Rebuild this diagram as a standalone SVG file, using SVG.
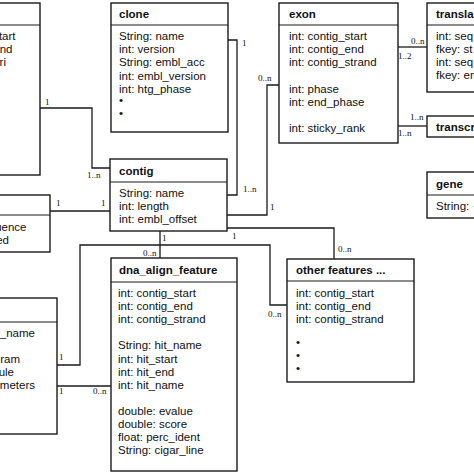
<svg xmlns="http://www.w3.org/2000/svg" width="474" height="474" viewBox="0 0 474 474">
<style>
.box{fill:#fff;stroke:#1a1a1a;stroke-width:1.4}
.div{stroke:#1a1a1a;stroke-width:1.2}
.t{font-family:"Liberation Sans",Arial,sans-serif;font-size:11.5px;font-weight:bold;fill:#111}
.b{font-family:"Liberation Sans",Arial,sans-serif;font-size:11.5px;fill:#111}
.lb{font-family:"Liberation Serif","Times New Roman",serif;font-size:9px;fill:#111}
.c{fill:none;stroke:#1a1a1a;stroke-width:1.3}
</style>
<rect width="474" height="474" fill="#fff"/>
<g id="connectors">
<path class="c" d="M40,108 H92 V168 H110"/>
<path class="c" d="M50,211 H110"/>
<path class="c" d="M228,40 H237 V195 H227"/>
<path class="c" d="M227,215 H267 V85 H279"/>
<path class="c" d="M227,228 H334 V259"/>
<path class="c" d="M160,231 V258"/>
<path class="c" d="M57,365 H80 V245 H270 V305 H287"/>
<path class="c" d="M57,386 H111"/>
<path class="c" d="M398,47 H427"/>
<path class="c" d="M398,126 H427"/>
<text class="lb" x="45" y="105">1</text>
<text class="lb" x="87" y="178">1..n</text>
<text class="lb" x="242" y="46">1</text>
<text class="lb" x="243" y="192">1..n</text>
<text class="lb" x="258" y="81">0..n</text>
<text class="lb" x="270" y="210">1</text>
<text class="lb" x="232" y="239">1</text>
<text class="lb" x="338" y="252">0..n</text>
<text class="lb" x="162" y="241">1</text>
<text class="lb" x="143" y="256">0..n</text>
<text class="lb" x="56" y="206">1</text>
<text class="lb" x="101" y="206">1</text>
<text class="lb" x="411" y="44">0..n</text>
<text class="lb" x="398" y="59">1..2</text>
<text class="lb" x="410" y="120">1..n</text>
<text class="lb" x="398" y="136">1..n</text>
<text class="lb" x="59" y="360">1</text>
<text class="lb" x="59" y="394">1</text>
<text class="lb" x="93" y="394">0..n</text>
<text class="lb" x="268" y="317">0..n</text>
</g>
<g id="node-topleft">
<rect class="box" x="-10" y="3" width="50" height="172"/>
<line class="div" x1="-10" y1="25" x2="40" y2="25"/>
<text class="b" x="15.5" y="40" text-anchor="end">start</text>
<text class="b" x="12.5" y="53" text-anchor="end">end</text>
<text class="b" x="6" y="66" text-anchor="end">ri</text>
</g>
<g id="node-clone">
<rect class="box" x="111" y="3" width="117" height="129"/>
<line class="div" x1="111" y1="25" x2="228" y2="25"/>
<text class="t" x="119" y="18">clone</text>
<text class="b" x="119" y="40">String: name</text>
<text class="b" x="119" y="53.2">int: version</text>
<text class="b" x="119" y="66.4">String: embl_acc</text>
<text class="b" x="119" y="79.6">int: embl_version</text>
<text class="b" x="119" y="92.8">int: htg_phase</text>
<text class="b" x="119" y="104">•</text>
<text class="b" x="119" y="117">•</text>
</g>
<g id="node-exon">
<rect class="box" x="279" y="3" width="119" height="140"/>
<line class="div" x1="279" y1="25" x2="398" y2="25"/>
<text class="t" x="289" y="18">exon</text>
<text class="b" x="289" y="40">int: contig_start</text>
<text class="b" x="289" y="53.2">int: contig_end</text>
<text class="b" x="289" y="66.4">int: contig_strand</text>
<text class="b" x="289" y="92.8">int: phase</text>
<text class="b" x="289" y="106">int: end_phase</text>
<text class="b" x="289" y="132.4">int: sticky_rank</text>
</g>
<g id="node-translation">
<rect class="box" x="427" y="3" width="60" height="89"/>
<line class="div" x1="427" y1="25" x2="487" y2="25"/>
<text class="t" x="436" y="18">transla</text>
<text class="b" x="436" y="40">int: seq</text>
<text class="b" x="436" y="53">fkey: st</text>
<text class="b" x="436" y="66">int: seq</text>
<text class="b" x="436" y="79">fkey: en</text>
</g>
<g id="node-transcript">
<rect class="box" x="427" y="116" width="60" height="21"/>
<text class="t" x="436" y="131">transcr</text>
</g>
<g id="node-gene">
<rect class="box" x="427" y="172" width="60" height="46"/>
<line class="div" x1="427" y1="195" x2="487" y2="195"/>
<text class="t" x="436" y="188">gene</text>
<text class="b" x="436" y="210">String: ·</text>
</g>
<g id="node-contig">
<rect class="box" x="110" y="159" width="117" height="72"/>
<line class="div" x1="110" y1="182" x2="227" y2="182"/>
<text class="t" x="119" y="175">contig</text>
<text class="b" x="119" y="197">String: name</text>
<text class="b" x="119" y="210">int: length</text>
<text class="b" x="119" y="223">int: embl_offset</text>
</g>
<g id="node-midleft">
<rect class="box" x="-10" y="195" width="60" height="57"/>
<line class="div" x1="-10" y1="215" x2="50" y2="215"/>
<text class="b" x="26.5" y="231" text-anchor="end">uence</text>
<text class="b" x="9" y="244" text-anchor="end">ed</text>
</g>
<g id="node-dna_align_feature">
<rect class="box" x="111" y="258" width="126" height="213"/>
<line class="div" x1="111" y1="282" x2="237" y2="282"/>
<text class="t" x="119" y="274">dna_align_feature</text>
<text class="b" x="118" y="297">int: contig_start</text>
<text class="b" x="118" y="310.1">int: contig_end</text>
<text class="b" x="118" y="323.2">int: contig_strand</text>
<text class="b" x="118" y="349.4">String: hit_name</text>
<text class="b" x="118" y="362.5">int: hit_start</text>
<text class="b" x="118" y="375.6">int: hit_end</text>
<text class="b" x="118" y="388.7">int: hit_name</text>
<text class="b" x="118" y="414.9">double: evalue</text>
<text class="b" x="118" y="428">double: score</text>
<text class="b" x="118" y="441.1">float: perc_ident</text>
<text class="b" x="118" y="454.2">String: cigar_line</text>
</g>
<g id="node-other-features">
<rect class="box" x="287" y="259" width="127" height="123"/>
<line class="div" x1="287" y1="281" x2="414" y2="281"/>
<text class="t" x="296" y="274">other features ...</text>
<text class="b" x="296" y="297">int: contig_start</text>
<text class="b" x="296" y="310">int: contig_end</text>
<text class="b" x="296" y="323">int: contig_strand</text>
<text class="b" x="296" y="346">•</text>
<text class="b" x="296" y="359">•</text>
<text class="b" x="296" y="372">•</text>
</g>
<g id="node-bottomleft">
<rect class="box" x="-10" y="298" width="67" height="136"/>
<line class="div" x1="-10" y1="322" x2="57" y2="322"/>
<text class="b" x="35" y="337" text-anchor="end">_name</text>
<text class="b" x="20" y="363" text-anchor="end">ram</text>
<text class="b" x="14" y="376" text-anchor="end">ule</text>
<text class="b" x="35" y="389" text-anchor="end">meters</text>
</g>
</svg>
